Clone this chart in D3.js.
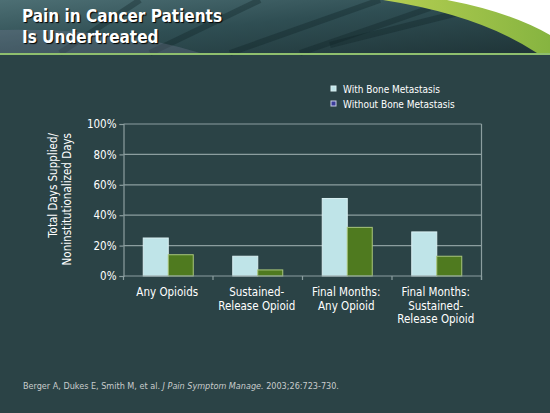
<!DOCTYPE html>
<html>
<head>
<meta charset="utf-8">
<script src="https://cdn.jsdelivr.net/npm/d3@7/dist/d3.min.js"></script>
<style>
  body { margin: 0; background: #2b4346; }
  svg { display: block; }
</style>
</head>
<body>
<script>
// chart data
var categories = [
  ["Any Opioids"],
  ["Sustained-", "Release Opioid"],
  ["Final Months:", "Any Opioid"],
  ["Final Months:", "Sustained-", "Release Opioid"]
];
var seriesNames = ["With Bone Metastasis", "Without Bone Metastasis"];
var withBone = [25, 13, 51, 29];
var withoutBone = [14, 4, 32, 13];
var yTicks = [0, 20, 40, 60, 80, 100];

var W = 550, H = 413;
var plotLeft = 123.5, plotRight = 481.5, plotTop = 124, plotBottom = 276;

var svg = d3.select("body").append("svg")
    .attr("width", W)
    .attr("height", H);

var defs = svg.append("defs");
var hg = defs.append("linearGradient").attr("id", "hdr")
    .attr("x1", 0).attr("y1", 0).attr("x2", 1).attr("y2", 1);
hg.append("stop").attr("offset", "0%").attr("stop-color", "#4d6f74");
hg.append("stop").attr("offset", "45%").attr("stop-color", "#2f4e53");
hg.append("stop").attr("offset", "100%").attr("stop-color", "#1f3437");

var gg = defs.append("linearGradient").attr("id", "swoosh")
    .attr("x1", 0).attr("y1", 0).attr("x2", 1).attr("y2", 0);
gg.append("stop").attr("offset", "0%").attr("stop-color", "#b6cf52");
gg.append("stop").attr("offset", "100%").attr("stop-color", "#86b440");

// background
svg.append("rect").attr("width", W).attr("height", H).attr("fill", "#2b4346");

// header band
svg.append("rect").attr("width", W).attr("height", 53).attr("fill", "url(#hdr)");

// faint diagonal streaks in the header
var streaks = [[60, 53, 140, 0], [150, 53, 260, 0], [230, 53, 380, 0], [300, 53, 430, 8], [330, 45, 470, 10]];
streaks.forEach(function(s){
    svg.append("line")
	.attr("x1", s[0]).attr("y1", s[1])
	.attr("x2", s[2]).attr("y2", s[3])
	.attr("stroke", "#0f2224")
	.attr("stroke-opacity", 0.35)
	.attr("stroke-width", 6);
});
svg.append("path")
    .attr("d", "M0,30 Q120,28 200,53 L0,53 Z")
    .attr("fill", "#8c8aa8")
    .attr("fill-opacity", 0.25);

// green swoosh and white corner
svg.append("path")
    .attr("d", "M383,0 Q480,15 537,53 L550,53 L550,0 Z")
    .attr("fill", "url(#swoosh)");
svg.append("path")
    .attr("d", "M447,0 Q510,12 550,35 L550,0 Z")
    .attr("fill", "#ffffff");

svg.append("rect").attr("x", 0).attr("y", 53).attr("width", W).attr("height", 2)
    .attr("fill", "#8fbf6e");

// title
var title = svg.append("text")
    .attr("x", 22)
    .attr("font-family", "DejaVu Sans Condensed, DejaVu Sans, sans-serif")
    .attr("font-weight", "bold")
    .attr("font-size", 17)
    .attr("fill", "#ffffff")
    .style("text-shadow", "1px 1px 1px #000");
title.append("tspan").attr("x", 22).attr("y", 22).text("Pain in Cancer Patients");
title.append("tspan").attr("x", 22).attr("y", 43).text("Is Undertreated");

// scales
var x0 = d3.scaleBand()
    .domain(d3.range(categories.length))
    .range([plotLeft, plotRight])
    .paddingInner(0)
    .paddingOuter(0);

var x1 = d3.scaleBand()
    .domain(seriesNames)
    .range([0, x0.bandwidth()])
    .paddingInner(0)
    .paddingOuter(0.79);

var y = d3.scaleLinear().domain([0, 100]).range([plotBottom, plotTop]);

var fills = ["#bfe4e8", "#4f7a1f"];
var strokes = ["#d9f0f2", "#a9c67c"];

var lineColor = "#8c9e9f";
var fontFam = "DejaVu Sans Condensed, DejaVu Sans, sans-serif";

// gridlines
svg.append("g")
    .selectAll("line")
    .data(yTicks.filter(function(d){ return d > 0; }))
    .enter().append("line")
    .attr("x1", plotLeft).attr("x2", plotRight)
    .attr("y1", function(d){ return y(d); })
    .attr("y2", function(d){ return y(d); })
    .attr("stroke", lineColor)
    .attr("stroke-width", 1.2);

// right frame line
svg.append("line")
    .attr("x1", plotRight).attr("x2", plotRight)
    .attr("y1", plotTop).attr("y2", plotBottom + 4)
    .attr("stroke", lineColor).attr("stroke-width", 1.2);

// y axis
var yAxis = svg.append("g")
    .attr("transform", "translate(" + plotLeft + ",0)")
    .call(d3.axisLeft(y).tickValues(yTicks).tickSize(4).tickFormat(function(d){ return d + "%"; }));
yAxis.select(".domain").attr("stroke", lineColor).attr("stroke-width", 1.2);
yAxis.selectAll(".tick line").attr("stroke", lineColor).attr("stroke-width", 1.2);
yAxis.selectAll(".tick text")
    .attr("fill", "#ffffff")
    .attr("font-family", fontFam)
    .attr("font-size", 11.5)
    .attr("x", -7);

// bars
var rows = categories.map(function(c, i){
    return [withBone[i], withoutBone[i]];
});

var groups = svg.append("g")
    .selectAll("g")
    .data(rows)
    .enter().append("g")
    .attr("transform", function(d, i){ return "translate(" + x0(i) + ",0)"; });

groups.selectAll("rect")
    .data(function(d){ return d.map(function(v, j){ return {v: v, j: j}; }); })
    .enter().append("rect")
    .attr("x", function(d){ return x1(seriesNames[d.j]); })
    .attr("y", function(d){ return y(d.v); })
    .attr("width", x1.bandwidth())
    .attr("height", function(d){ return y(0) - y(d.v); })
    .attr("fill", function(d){ return fills[d.j]; })
    .attr("stroke", function(d){ return strokes[d.j]; })
    .attr("stroke-width", 1);

// x axis line and ticks
svg.append("line")
    .attr("x1", plotLeft).attr("x2", plotRight)
    .attr("y1", plotBottom).attr("y2", plotBottom)
    .attr("stroke", lineColor).attr("stroke-width", 1.2);

svg.append("g")
    .selectAll("line")
    .data(d3.range(categories.length + 1))
    .enter().append("line")
    .attr("x1", function(i){ return plotLeft + i * x0.step(); })
    .attr("x2", function(i){ return plotLeft + i * x0.step(); })
    .attr("y1", plotBottom)
    .attr("y2", plotBottom + 4)
    .attr("stroke", lineColor).attr("stroke-width", 1.2);

// category labels
var catLabels = svg.append("g")
    .selectAll("text")
    .data(categories)
    .enter().append("text")
    .attr("text-anchor", "middle")
    .attr("font-family", fontFam)
    .attr("font-size", 11.5)
    .attr("fill", "#ffffff");

catLabels.each(function(lines, i){
    var t = d3.select(this);
    lines.forEach(function(l, k){
	t.append("tspan")
	    .attr("x", x0(i) + x0.bandwidth() / 2 - 1)
	    .attr("y", 296 + k * 13.5)
	    .text(l);
    });
});

// y axis title (both lines end at the same height)
var yTitle = svg.append("text")
    .attr("transform", "rotate(-90)")
    .attr("text-anchor", "end")
    .attr("font-family", fontFam)
    .attr("font-size", 11.5)
    .attr("fill", "#ffffff");
yTitle.append("tspan").attr("x", -133).attr("y", 57).text("Total Days Supplied/");
yTitle.append("tspan").attr("x", -133).attr("y", 71).text("Noninstitutionalized Days");

// legend
var legendFills = ["#bfe4e8", "#3b3c9a"];
var legendStrokes = ["#d9f0f2", "#c9cde8"];
var legend = svg.append("g")
    .selectAll("g")
    .data(seriesNames)
    .enter().append("g")
    .attr("transform", function(d, i){ return "translate(331," + (86 + i * 15) + ")"; });

legend.append("rect")
    .attr("width", 5).attr("height", 5)
    .attr("fill", function(d, i){ return legendFills[i]; })
    .attr("stroke", function(d, i){ return legendStrokes[i]; })
    .attr("stroke-width", 1);

legend.append("text")
    .attr("x", 12)
    .attr("y", 6.5)
    .attr("font-family", fontFam)
    .attr("font-size", 10)
    .attr("fill", "#ffffff")
    .text(function(d){ return d; });

// citation
var cite = svg.append("text")
    .attr("x", 23)
    .attr("y", 389)
    .attr("font-family", fontFam)
    .attr("font-size", 9)
    .attr("fill", "#c9cccc");
cite.append("tspan").text("Berger A, Dukes E, Smith M, et al. ");
cite.append("tspan").attr("font-style", "italic").text("J Pain Symptom Manage.");
cite.append("tspan").text(" 2003;26:723-730.");
</script>
</body>
</html>
